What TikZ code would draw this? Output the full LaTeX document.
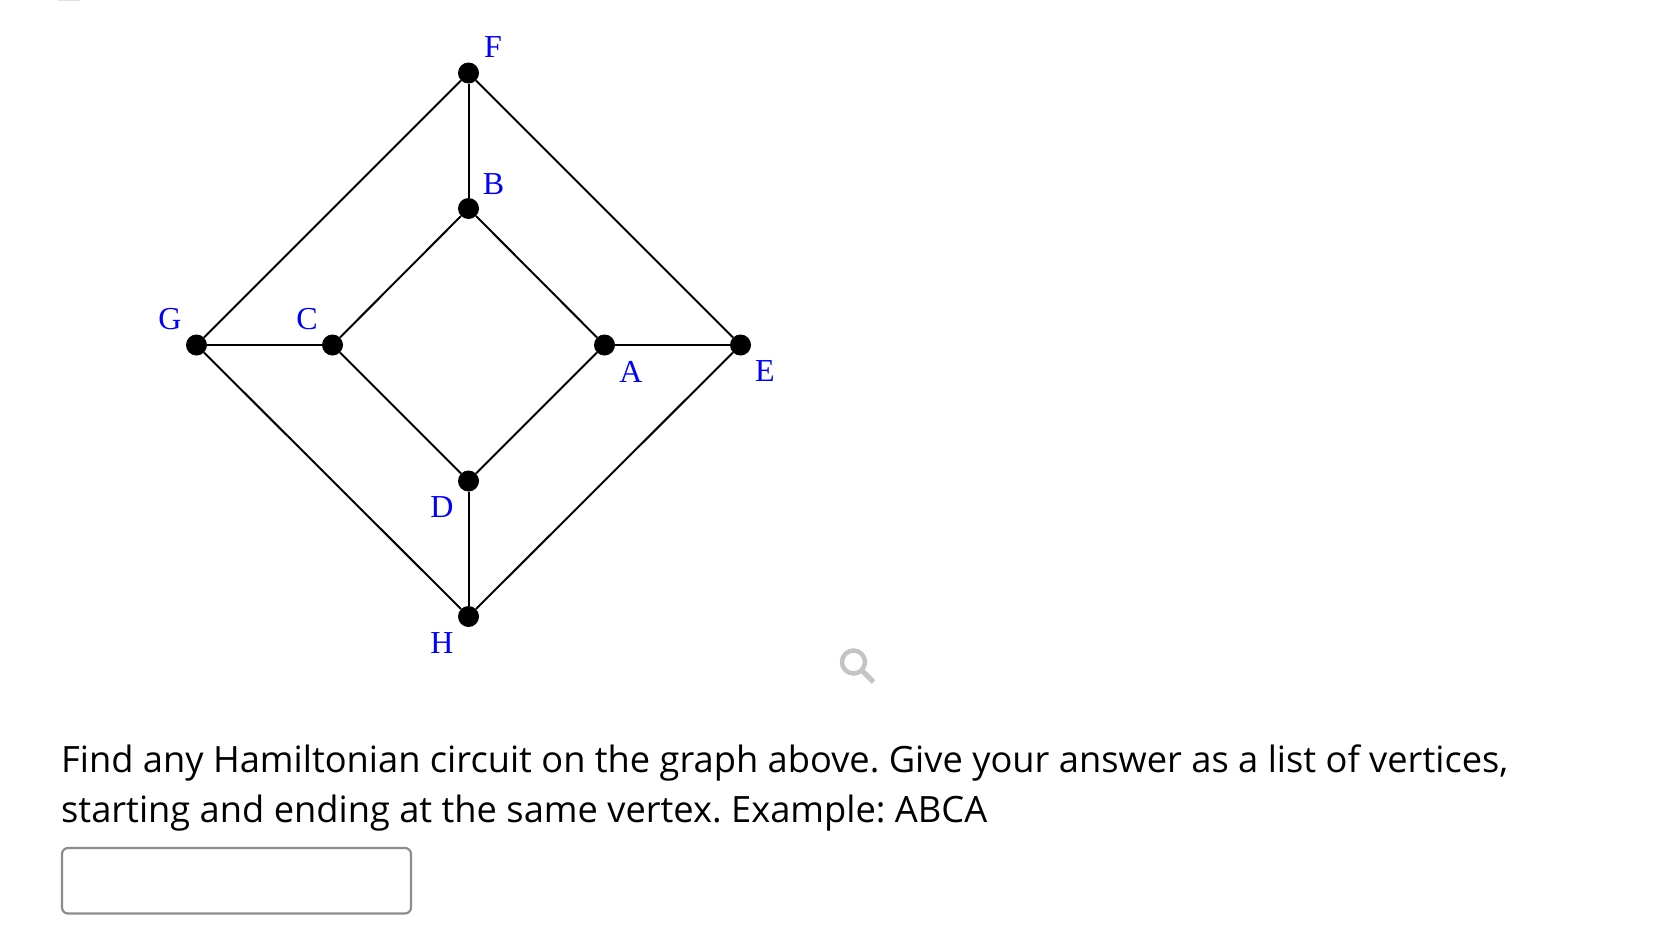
\documentclass[tikz,border=0pt]{standalone}
\usepackage{fontspec}
\setmainfont{Liberation Serif}
\newfontfamily\questionfont{Open Sans}
\usetikzlibrary{positioning}

\tikzset{
  vertex/.style={circle, fill=black, inner sep=0pt, minimum size=21pt},
  edge/.style={draw=black, line width=2pt},
  vlabel/.style={text=blue, inner sep=0pt, font=\fontsize{32}{32}\selectfont},
  question/.style={anchor=base west, inner sep=0pt, text=black,
    font=\questionfont\fontsize{36.25}{50}\selectfont\frenchspacing},
}

\begin{document}
\begin{tikzpicture}[x=1pt, y=-1pt]
  \useasboundingbox (0,0) rectangle (1680,934);

  % Vertices
  \node[vertex] (F) at (468.5,73) {};
  \node[vertex] (B) at (468.5,208.5) {};
  \node[vertex] (G) at (196.5,345) {};
  \node[vertex] (C) at (332.5,345) {};
  \node[vertex] (A) at (604.5,345) {};
  \node[vertex] (E) at (740.5,345) {};
  \node[vertex] (D) at (468.5,481) {};
  \node[vertex] (H) at (468.5,616.5) {};

  % Edges
  \draw[edge] (F) -- (B);
  \draw[edge] (F) -- (G);
  \draw[edge] (F) -- (E);
  \draw[edge] (B) -- (C);
  \draw[edge] (B) -- (A);
  \draw[edge] (G) -- (C);
  \draw[edge] (A) -- (E);
  \draw[edge] (C) -- (D);
  \draw[edge] (A) -- (D);
  \draw[edge] (G) -- (H);
  \draw[edge] (E) -- (H);
  \draw[edge] (D) -- (H);

  % Vertex labels
  \node[vlabel] (Ftext) at (493,47.5) {F};
  \node[vlabel] (Btext) at (493.5,184) {B};
  \node[vlabel] (Gtext) at (170,319.5) {G};
  \node[vlabel] (Ctext) at (307,319.5) {C};
  \node[vlabel] (Atext) at (631,371.5) {A};
  \node[vlabel] (Etext) at (765,371) {E};
  \node[vlabel] (Dtext) at (442,507) {D};
  \node[vlabel] (Htext) at (442,643) {H};

  % Magnifier
  \draw[black!23, line width=4.5pt] (853.5,662) circle[radius=11.5];
  \draw[black!23, line width=5pt] (862,670.5) -- (873.5,682);

  % Question
  \node[question] (line1) at (61,772.3)
    {Find any Hamiltonian circuit on the graph above. Give your answer as a list of vertices,};
  \node[question] (line2) at (61,822.3)
    {starting and ending at the same vertex. Example: ABCA};

  % Answer box
  \draw[black!45, line width=2.2pt, rounded corners=6pt] (62,848) rectangle (411,913.5);

  % Scrap at the top edge
  \draw[black!12, line width=1.5pt] (58,0.5) -- (80,0.5);
\end{tikzpicture}
\end{document}
